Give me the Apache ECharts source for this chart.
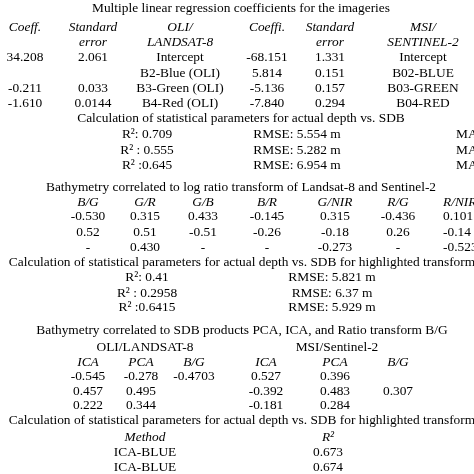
<!DOCTYPE html>
<html>
<head>
<meta charset="UTF-8">
<script src="https://cdn.jsdelivr.net/npm/echarts@6/dist/echarts.min.js"></script>
<style>html,body{margin:0;background:#fff}#c{width:474px;height:474px}</style>
</head>
<body>
<div id="c"></div>
<script>
// table 1: regression coefficients
var t1Head1 = ['Coeff.', 'Standard', 'OLI/', 'Coeffi.', 'Standard', 'MSI/'];
var t1Head2 = ['', 'error', 'LANDSAT-8', '', 'error', 'SENTINEL-2'];
var t1Rows = [
  ['34.208', '2.061', 'Intercept', '-68.151', '1.331', 'Intercept'],
  ['', '', 'B2-Blue (OLI)', '5.814', '0.151', 'B02-BLUE'],
  ['-0.211', '0.033', 'B3-Green (OLI)', '-5.136', '0.157', 'B03-GREEN'],
  ['-1.610', '0.0144', 'B4-Red (OLI)', '-7.840', '0.294', 'B04-RED']
];
var stats1 = [['R²: 0.709', 'RMSE: 5.554 m', 'MAE'], ['R² : 0.555', 'RMSE: 5.282 m', 'MAE'], ['R² :0.645', 'RMSE: 6.954 m', 'MAE']];
// table 2: log ratio
var t2Head = ['B/G', 'G/R', 'G/B', 'B/R', 'G/NIR', 'R/G', 'R/NIR'];
var t2Rows = [
  ['-0.530', '0.315', '0.433', '-0.145', '0.315', '-0.436', '0.101'],
  ['0.52', '0.51', '-0.51', '-0.26', '-0.18', '0.26', '-0.14'],
  ['-', '0.430', '-', '-', '-0.273', '-', '-0.523']
];
var stats2 = [['R²: 0.41', 'RMSE: 5.821 m'], ['R² : 0.2958', 'RMSE: 6.37 m'], ['R² :0.6415', 'RMSE: 5.929 m']];
// table 3: PCA / ICA / B/G
var t3Head = ['ICA', 'PCA', 'B/G', 'ICA', 'PCA', 'B/G'];
var t3Rows = [
  ['-0.545', '-0.278', '-0.4703', '0.527', '0.396', ''],
  ['0.457', '0.495', '', '-0.392', '0.483', '0.307'],
  ['0.222', '0.344', '', '-0.181', '0.284', '']
];
var stats3 = [['ICA-BLUE', '0.673'], ['ICA-BLUE', '0.674']];

var FONT = '"Liberation Serif", "DejaVu Serif", serif';
var els = [];
function txt(s, x, y, italic, align) {
  els.push({type: 'text', x: x, y: y, style: {
    text: s, fill: '#000', font: (italic ? 'italic ' : '') + '13.4px ' + FONT,
    align: align || 'center', verticalAlign: 'middle'}});
}
function row(cells, xs, y, italic) {
  cells.forEach(function (s, i) { if (s) txt(s, xs[i], y, italic); });
}

var x1 = [25, 93, 180, 267, 330, 423];
txt('Multiple linear regression coefficients for the imageries', 241, 8);
row(t1Head1, x1, 27, true);
row(t1Head2, x1, 42, true);
[57, 73, 88, 103].forEach(function (y, i) { row(t1Rows[i], x1, y); });
txt('Calculation of statistical parameters for actual depth vs. SDB', 241, 118);
[134, 150, 165].forEach(function (y, i) {
  txt(stats1[i][0], 147, y); txt(stats1[i][1], 297, y); txt(stats1[i][2], 456, y, false, 'left');
});

var x2 = [88, 145, 203, 267, 335, 398, 443];
txt('Bathymetry correlated to log ratio transform of Landsat-8 and Sentinel-2', 241, 187);
row(t2Head.slice(0, 6), x2, 202, true); txt(t2Head[6], 443, 202, true, 'left');
[216, 232, 247].forEach(function (y, i) {
  row(t2Rows[i].slice(0, 6), x2, y); txt(t2Rows[i][6], 443, y, false, 'left');
});
txt('Calculation of statistical parameters for actual depth vs. SDB for highlighted transform', 242, 262);
[277, 293, 307].forEach(function (y, i) { txt(stats2[i][0], 147, y); txt(stats2[i][1], 332, y); });

var x3 = [88, 141, 194, 266, 335, 398];
txt('Bathymetry correlated to SDB products PCA, ICA, and Ratio transform B/G', 242, 330);
txt('OLI/LANDSAT-8', 145, 347); txt('MSI/Sentinel-2', 337, 347);
row(t3Head, x3, 362, true);
[376, 391, 405].forEach(function (y, i) { row(t3Rows[i], x3, y); });
txt('Calculation of statistical parameters for actual depth vs. SDB for highlighted transform', 242, 420);
txt('Method', 145, 437, true); txt('R²', 328, 437, true);
[452, 467].forEach(function (y, i) { txt(stats3[i][0], 145, y); txt(stats3[i][1], 328, y); });

var chart = echarts.init(document.getElementById('c'));
chart.setOption({backgroundColor: '#fff', graphic: {elements: els}});
</script>
</body>
</html>
